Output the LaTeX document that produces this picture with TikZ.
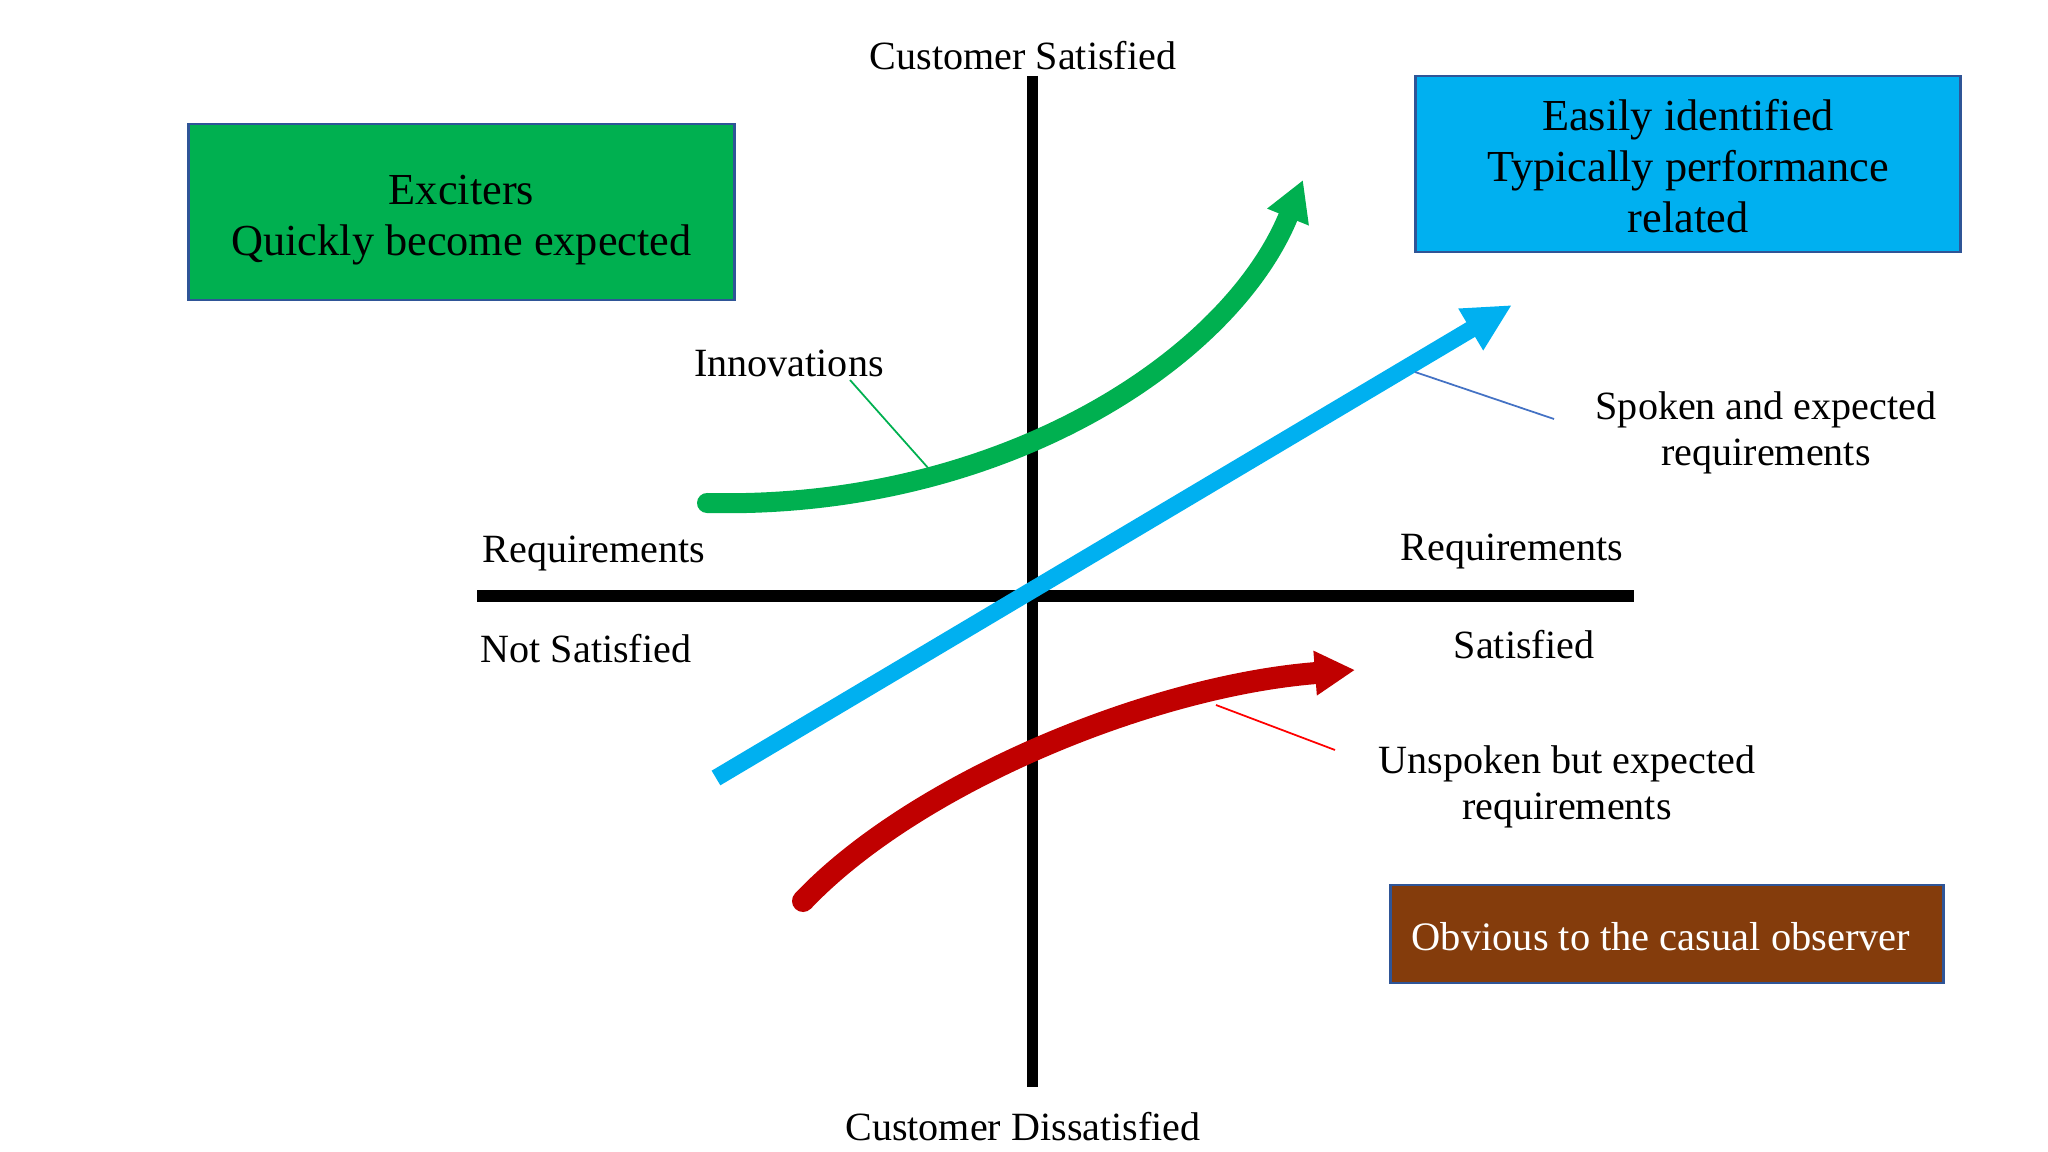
\documentclass[tikz,border=0pt]{standalone}
\usepackage{fontspec}
\setmainfont{Liberation Serif}
\usetikzlibrary{arrows.meta}
\definecolor{exgreen}{HTML}{00B050}
\definecolor{perfblue}{HTML}{00B0F0}
\definecolor{basered}{HTML}{C00000}
\definecolor{obsbrown}{HTML}{843C0C}
\definecolor{boxedge}{HTML}{2F5597}
\definecolor{calloutblue}{HTML}{4472C4}
\begin{document}
\begin{tikzpicture}[x=0.01cm,y=-0.01cm,
  lbl/.style={font=\fontsize{11.4}{13}\selectfont, align=center, inner sep=0pt},
  boxnode/.style={draw=boxedge, line width=0.8pt, font=\fontsize{12.6}{14.5}\selectfont, align=center, inner sep=0pt},
  boxtext/.style={font=\fontsize{12.6}{14.5}\selectfont, align=center, inner sep=0pt},
  axisline/.style={line width=0.11cm},
  bigarrow/.style={-{Triangle[length=0.4cm,width=0.42cm]}},
  callout/.style={line width=0.5pt}]
\path[use as bounding box] (0,0) rectangle (2048,1152);

% axes
\coordinate (vtop) at (1032,76);
\coordinate (vbot) at (1032,1087);
\coordinate (hleft) at (477,596);
\coordinate (hright) at (1634,596);
\draw[axisline] (vtop) -- (vbot);
\draw[axisline] (hleft) -- (hright);

% boxes
\node[boxnode, fill=exgreen, minimum width=5.45cm, minimum height=1.76cm] (exciters) at (461.5,212) {};
\node[boxtext] (excitersText) at (461.5,220) {Exciters\\Quickly become expected};
\node[boxnode, fill=perfblue, minimum width=5.44cm, minimum height=1.76cm] (perf) at (1688,164) {};
\node[boxtext] (perfText) at (1688,166) {Easily identified\\Typically performance\\related};
\node[boxnode, fill=obsbrown, minimum width=5.52cm, minimum height=0.98cm] (obvious) at (1667,934) {};
\node[boxtext, text=white, font=\fontsize{11.5}{13}\selectfont] (obviousText) at (1661,937) {Obvious to the casual observer};

% labels
\node[lbl] (cs) at (1023,56) {Customer Satisfied};
\node[lbl] (cd) at (1023,1127) {Customer Dissatisfied};
\node[lbl] (reqL) at (594,553) {Requirements};
\node[lbl] (notsat) at (586,649) {Not Satisfied};
\node[lbl] (reqR) at (1512,551) {Requirements};
\node[lbl] (sat) at (1524,645) {Satisfied};
\node[lbl] (innov) at (789,363) {Innovations};
\node[lbl] (spoken) at (1766,433) {Spoken and expected\\requirements};
\node[lbl] (unspoken) at (1567,787) {Unspoken but expected\\requirements};

% curves
\coordinate (gs) at (707,503);
\coordinate (ge) at (1303,180);
\draw[bigarrow, exgreen, line width=0.2cm, line cap=round] (gs) .. controls (1000,510) and (1230,360) .. (ge);

\coordinate (bs) at (716,778);
\coordinate (be) at (1512,305);
\draw[perfblue, line width=0.17cm, -{Triangle[length=0.48cm,width=0.45cm]}] (bs) -- (be);

\coordinate (rs) at (803,901);
\coordinate (re) at (1355,670);
\draw[bigarrow, basered, line width=0.22cm, line cap=round] (rs) .. controls (914,784) and (1149,686) .. (re);

% callouts
\coordinate (innovA) at (850,380);
\coordinate (innovB) at (929,469);
\draw[callout, exgreen] (innovA) -- (innovB);
\coordinate (spokA) at (1415,372);
\coordinate (spokB) at (1554,419);
\draw[callout, calloutblue] (spokA) -- (spokB);
\coordinate (unspA) at (1216,705);
\coordinate (unspB) at (1335,750);
\draw[callout, red] (unspA) -- (unspB);
\end{tikzpicture}
\end{document}
